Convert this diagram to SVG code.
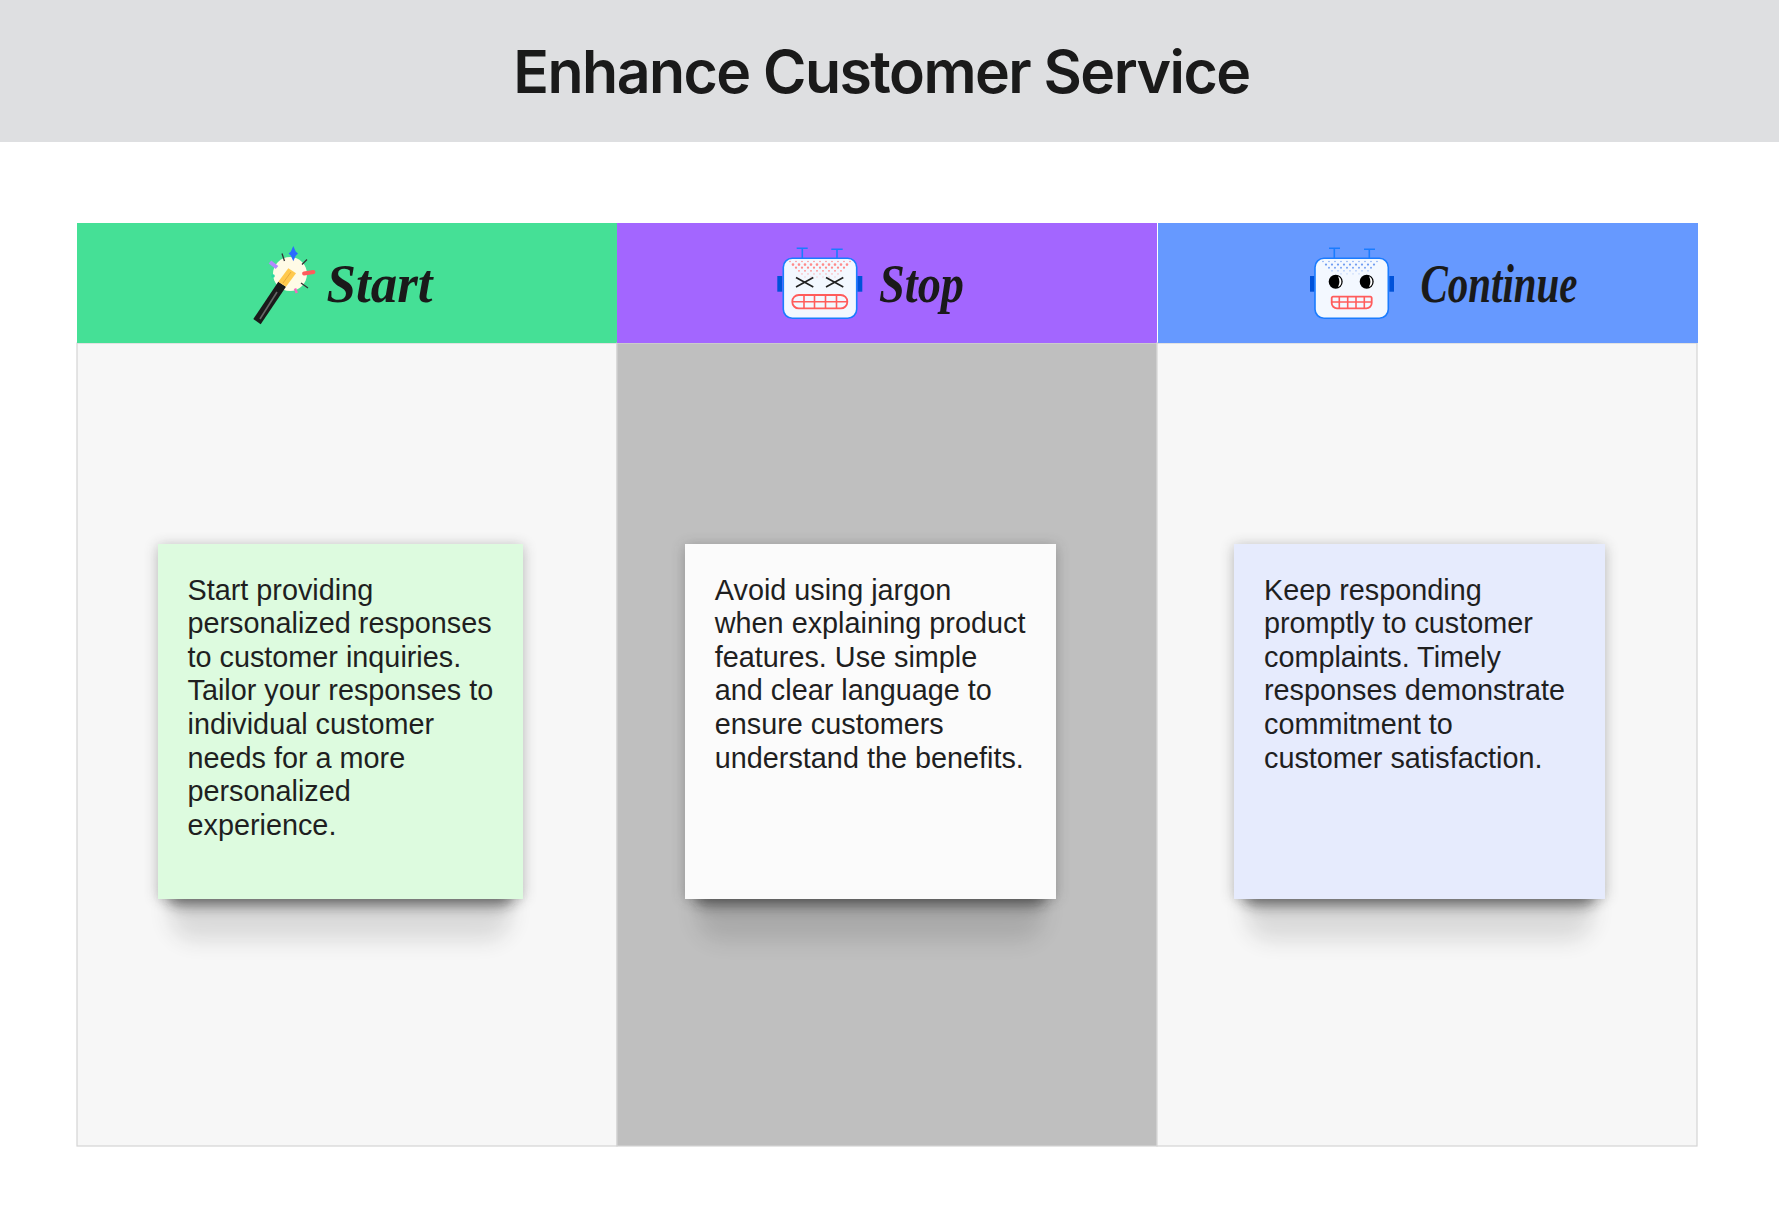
<svg xmlns="http://www.w3.org/2000/svg" width="1779" height="1212" viewBox="0 0 1779 1212">
<style>
.title{font:560 59px Inter,"Noto Sans",sans-serif;fill:#1a1a1a;text-anchor:middle;letter-spacing:-1.55px}
.head{font:italic 700 55px "Liberation Serif",serif;fill:#1a1a1a}
.body{font:28.8px "Liberation Sans",Arial,sans-serif;fill:#1f1f1f}
.frame{stroke:#d4d4d4;stroke-width:1.2}
.face{fill:#f3f8ff;stroke:#1a7cff;stroke-width:1.6}
.ear{fill:#0052d9}
.ant{stroke:#1a7cff;stroke-width:1.6;fill:none}
.mouth{fill:#f3f8ff;stroke:#ff5c5c;stroke-width:1.8}
.grid{stroke:#ff5c5c;stroke-width:1.6;fill:none}
.x{stroke:#222;stroke-width:1.6;fill:none}
.dot{fill:none;stroke-linecap:round;stroke-dasharray:0 6}
.red{stroke:#ff8a8a}
.blue{stroke:#6f9df2}
.amb{fill:#333;opacity:.34}
.drop{fill:#1a1a1a;opacity:.5}
.far{fill:#1a1a1a;opacity:.13}
</style>
<defs>
<filter id="b8" x="-20%" y="-20%" width="140%" height="140%"><feGaussianBlur stdDeviation="7"/></filter>
<filter id="b5" x="-20%" y="-150%" width="140%" height="400%"><feGaussianBlur stdDeviation="7"/></filter>
<filter id="b9" x="-20%" y="-100%" width="140%" height="300%"><feGaussianBlur stdDeviation="11"/></filter>
</defs>
<rect width="1779" height="142" fill="#dedfe1"/>
<text class="title" x="881.500" y="92.500">Enhance Customer Service</text>
<g id="start-col">
<rect x="77" y="343" width="540" height="803" fill="#f7f7f7" class="frame"/>
<rect x="77" y="223" width="540" height="120" fill="#45e096"/>
</g>
<g id="stop-col">
<rect x="617" y="343" width="540" height="803" fill="#bfbfbf" class="frame"/>
<rect x="617" y="223" width="540" height="120" fill="#a366ff"/>
</g>
<g id="continue-col">
<rect x="1157" y="343" width="540" height="803" fill="#f7f7f7" class="frame"/>
<rect x="1158" y="223" width="540" height="120" fill="#6699ff"/>
</g>
<g id="start-icon">
<circle cx="290" cy="274" r="17" fill="#fffbe6"/>
<path d="M293.300 246l2.400 5.500 2.300 2-2.300 2.200-2.400 5.600-2.400-5.600-2.300-2.200 2.300-2z" fill="#2b6bff"/>
<path d="M270 262l7 5.500" stroke="#b388ff" stroke-width="4"/>
<path d="M304 273.500l9.500-1.500" stroke="#ff5c5c" stroke-width="3.800" stroke-linecap="round"/>
<path d="M282 253.500l2.500 7.500M307 259.500l-5 5M301 283l7 5" stroke="#333" stroke-width="1.300"/>
<path d="M295 288.500l1.800 4.500" stroke="#f06bc0" stroke-width="2.500"/>
<circle cx="273" cy="276" r="1.800" fill="#2bd9a0"/>
<path d="M278.300 281.700L286 286.700 260.700 324.300 253.300 319z" fill="#1a1a1a"/>
<path d="M277 292l-17 27" stroke="#666" stroke-width="1.600"/>
<path d="M288.300 268.300L296 273.300 286 286.700 278.300 281.700z" fill="#ffc94d"/>
<path d="M291 272l-8 11" stroke="#e8a93a" stroke-width="1"/>
</g>
<g id="stop-icon">
<path class="ant" d="M802.300 258.300v-10M796.700 248.300h11M837 258.300v-9M831.300 249.300h11.400"/>
<rect class="ear" x="777.300" y="276" width="5" height="15.700"/>
<rect class="ear" x="857.300" y="276" width="5" height="15.700"/>
<rect class="face" x="783.300" y="258.300" width="73.400" height="60" rx="9"/>
<g class="dot red">
<path d="M790 261.500h61" stroke-width="1.600"/>
<path d="M793 264.600h55" stroke-width="2.700"/>
<path d="M796 267.700h49" stroke-width="2.300"/>
<path d="M799 270.800h43" stroke-width="1.800"/>
<path d="M802 273.900h37" stroke-width="1.200"/>
<path d="M805 277h31" stroke-width=".8"/>
</g>
<path class="x" d="M796 277.500l17.300 9.500M796 287l17.300-9.500M826 277.500l17.300 9.500M826 287l17.300-9.500"/>
<rect class="mouth" x="792.300" y="295" width="55" height="13.400" rx="6.500"/>
<path class="grid" d="M804 295v13.400M814.500 295v13.400M825.500 295v13.400M836.500 295v13.400M792.300 301.700h55"/>
</g>
<g id="continue-icon">
<path class="ant" d="M1334.300 258.300v-10M1329 248.300h11M1369.300 258.300v-9M1364 249.300h11"/>
<rect class="ear" x="1310" y="276" width="4.500" height="15.700"/>
<rect class="ear" x="1389.300" y="276" width="4.700" height="15.700"/>
<rect class="face" x="1315" y="258.300" width="73.300" height="60" rx="9"/>
<g class="dot blue">
<path d="M1323 261.500h58" stroke-width="1.400"/>
<path d="M1326 264.600h52" stroke-width="2.300"/>
<path d="M1329 267.700h46" stroke-width="1.900"/>
<path d="M1332 270.800h40" stroke-width="1.300"/>
<path d="M1341 273.900h22" stroke-width=".8"/>
</g>
<circle cx="1335.700" cy="281.700" r="7" fill="#000"/>
<path d="M1338 276.300a6 6 0 0 1 0 10.800a12 12 0 0 0 0-10.800z" fill="#fff"/>
<circle cx="1366.700" cy="281.700" r="7" fill="#000"/>
<path d="M1369 276.300a6 6 0 0 1 0 10.800a12 12 0 0 0 0-10.800z" fill="#fff"/>
<path class="mouth" d="M1331.700 298a1.300 1.300 0 0 1 1.300-1.300h37.400a1.300 1.300 0 0 1 1.300 1.300v5a5.300 5.300 0 0 1-5.300 5.300h-29.400a5.300 5.300 0 0 1-5.300-5.300z"/>
<path class="grid" d="M1339.300 296.700v11.600M1347.700 296.700v11.600M1356 296.700v11.600M1364.300 296.700v11.600M1331.700 302h40"/>
</g>
<g id="start-head"><text class="head" x="326.500" y="302" textLength="106" lengthAdjust="spacingAndGlyphs">Start</text></g>
<g id="stop-head"><text class="head" x="879" y="302" textLength="85" lengthAdjust="spacingAndGlyphs">Stop</text></g>
<g id="continue-head"><text class="head" x="1420.500" y="302" textLength="157" lengthAdjust="spacingAndGlyphs">Continue</text></g>
<g id="start-card">
<rect class="amb" x="158" y="546" width="365" height="353" filter="url(#b8)"/>
<rect class="drop" x="168" y="886" width="345" height="20" rx="10" filter="url(#b5)"/>
<rect class="far" x="170" y="884" width="341" height="56" rx="24" filter="url(#b9)"/>
<rect x="158" y="544" width="365" height="355" fill="#ddfbdf"/>
<text class="body" y="599.600"><tspan x="187.500">Start providing</tspan><tspan x="187.500" dy="33.600">personalized responses</tspan><tspan x="187.500" dy="33.600">to customer inquiries.</tspan><tspan x="187.500" dy="33.600">Tailor your responses to</tspan><tspan x="187.500" dy="33.600">individual customer</tspan><tspan x="187.500" dy="33.600">needs for a more</tspan><tspan x="187.500" dy="33.600">personalized</tspan><tspan x="187.500" dy="33.600">experience.</tspan></text>
</g>
<g id="stop-card">
<rect class="amb" x="685" y="546" width="371" height="353" filter="url(#b8)"/>
<rect class="drop" x="695" y="886" width="351" height="20" rx="10" filter="url(#b5)"/>
<rect class="far" x="697" y="884" width="347" height="56" rx="24" filter="url(#b9)"/>
<rect x="685" y="544" width="371" height="355" fill="#fbfbfb"/>
<text class="body" y="599.600"><tspan x="714.800">Avoid using jargon</tspan><tspan x="714.800" dy="33.600">when explaining product</tspan><tspan x="714.800" dy="33.600">features. Use simple</tspan><tspan x="714.800" dy="33.600">and clear language to</tspan><tspan x="714.800" dy="33.600">ensure customers</tspan><tspan x="714.800" dy="33.600">understand the benefits.</tspan></text>
</g>
<g id="continue-card">
<rect class="amb" x="1234" y="546" width="371" height="353" filter="url(#b8)"/>
<rect class="drop" x="1244" y="886" width="351" height="20" rx="10" filter="url(#b5)"/>
<rect class="far" x="1246" y="884" width="347" height="56" rx="24" filter="url(#b9)"/>
<rect x="1234" y="544" width="371" height="355" fill="#e6ebfd"/>
<text class="body" y="599.600"><tspan x="1264">Keep responding</tspan><tspan x="1264" dy="33.600">promptly to customer</tspan><tspan x="1264" dy="33.600">complaints. Timely</tspan><tspan x="1264" dy="33.600">responses demonstrate</tspan><tspan x="1264" dy="33.600">commitment to</tspan><tspan x="1264" dy="33.600">customer satisfaction.</tspan></text>
</g>
</svg>
